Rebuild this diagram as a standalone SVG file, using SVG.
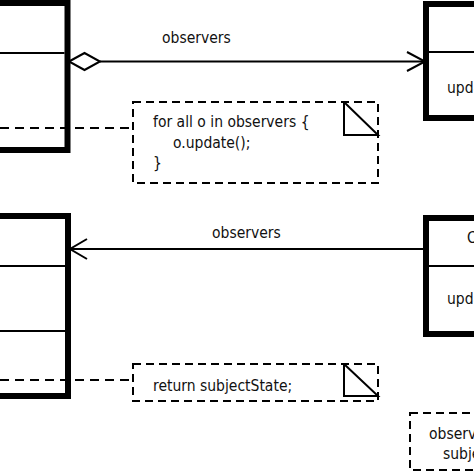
<svg xmlns="http://www.w3.org/2000/svg" width="474" height="474" viewBox="0 0 474 474">
<style>
.cls{fill:#fff;stroke:#000;stroke-width:6}
.div{stroke:#000;stroke-width:2;fill:none}
.note{fill:#fff;stroke:#000;stroke-width:2;stroke-dasharray:8 5}
.fold{fill:none;stroke:#000;stroke-width:2}
.conn{stroke:#000;stroke-width:2;fill:none}
.dash{stroke:#000;stroke-width:2;fill:none;stroke-dasharray:9 6}
text{font-family:"DejaVu Sans Condensed","DejaVu Sans",sans-serif;font-stretch:condensed;font-size:15.5px;fill:#111}
</style>
<rect width="474" height="474" fill="#fff"/>
<g id="subject">
<rect class="cls" x="-100" y="3" width="167.5" height="147"/>
<line class="div" x1="-100" y1="53" x2="64.5" y2="53"/>
</g>
<g id="observer">
<rect class="cls" x="426" y="4" width="200" height="114"/>
<line class="div" x1="429" y1="52" x2="626" y2="52"/>
<text x="447" y="93">update()</text>
</g>
<g id="concreteSubject">
<rect class="cls" x="-100" y="216" width="168" height="180"/>
<line class="div" x1="-100" y1="266" x2="65" y2="266"/>
<line class="div" x1="-100" y1="331" x2="65" y2="331"/>
</g>
<g id="concreteObserver">
<rect class="cls" x="426" y="218" width="200" height="116"/>
<line class="div" x1="429" y1="266" x2="626" y2="266"/>
<text x="467" y="243">ConcreteObserver</text>
<text x="447" y="304">update()</text>
</g>
<g id="note1">
<rect class="note" x="133" y="102" width="245" height="81"/>
<polyline class="fold" points="344,102 344,135 378,135 344,102"/>
<text x="153" y="127">for all o in observers {</text>
<text x="173" y="148">o.update();</text>
<text x="153" y="168">}</text>
</g>
<g id="note2">
<rect class="note" x="133" y="364" width="245" height="37"/>
<polyline class="fold" points="344,364 344,396 378,396 344,364"/>
<text x="153" y="391">return subjectState;</text>
</g>
<g id="note3">
<rect class="note" x="410" y="413" width="120" height="57"/>
<text x="429" y="439">observerState =</text>
<text x="443" y="459">subject.getState();</text>
</g>
<g id="connectors">
<line class="dash" x1="0" y1="128" x2="132" y2="128"/>
<line class="dash" x1="0" y1="380" x2="132" y2="380"/>
<line class="conn" x1="100" y1="61.5" x2="425" y2="61.5"/>
<polygon points="69,61.5 84.5,53 100,61.5 84.5,70" fill="#fff" stroke="#000" stroke-width="2"/>
<polyline class="conn" points="407,52 425,61.5 407,71"/>
<text x="162" y="43">observers</text>
<line class="conn" x1="426" y1="249" x2="70" y2="249"/>
<polyline class="conn" points="87,239 70,249 87,259"/>
<text x="212" y="238">observers</text>
</g>
</svg>
